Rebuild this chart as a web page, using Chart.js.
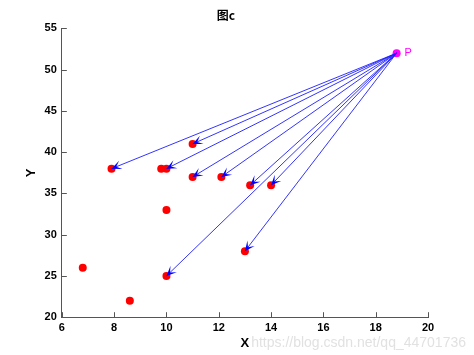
<!DOCTYPE html>
<html>
<head>
<meta charset="utf-8">
<script src="https://cdn.jsdelivr.net/npm/chart.js@4/dist/chart.umd.min.js"></script>
<style>
html,body{margin:0;padding:0;background:#fff;}
#wrap{width:474px;height:355px;position:relative;}
</style>
</head>
<body>
<div id="wrap"><canvas id="c" width="474" height="355"></canvas></div>
<script>
// ---- data ----
const pointX = [11, 7.9, 9.8, 10, 11, 12.1, 13.2, 14, 10, 13, 6.8, 10, 8.6];
const pointY = [41, 38, 38, 38, 37, 37, 36, 36, 33, 28, 26, 25, 22];
const pX = 18.8;
const pY = 52;
const targetX = [11, 7.9, 10, 11, 12.1, 13.2, 14, 13, 10];
const targetY = [41, 38, 38, 37, 37, 36, 36, 28, 25];
const xTicks = [6, 8, 10, 12, 14, 16, 18, 20];
const yTicks = [20, 25, 30, 35, 40, 45, 50, 55];
const titleText = '图c';
const pLabel = 'P';
const watermark = 'https://blog.csdn.net/qq_44701736';

const datasets = [];
targetX.forEach((tx, i) => {
  datasets.push({
    type: 'line', isArrow: true,
    data: [{x: pX, y: pY}, {x: tx, y: targetY[i]}],
    borderColor: 'rgba(30,30,255,0.9)', borderWidth: 1,
    pointRadius: 0, showLine: true, fill: false, order: 0
  });
});
datasets.push({
  type: 'scatter',
  data: pointX.map((x, i) => ({x, y: pointY[i]})),
  backgroundColor: '#ff0000', borderColor: '#ff0000',
  pointRadius: 4, borderWidth: 0, order: 2
});
datasets.push({
  type: 'scatter', isP: true,
  data: [{x: pX, y: pY}],
  backgroundColor: '#ff00ff', borderColor: '#ff00ff',
  pointRadius: 4, borderWidth: 0, order: 1
});

const extras = {
  id: 'extras',
  afterDatasetsDraw(chart) {
    const ctx = chart.ctx;
    ctx.save();
    // arrowheads
    chart.data.datasets.forEach((ds, i) => {
      if (!ds.isArrow) return;
      const pts = chart.getDatasetMeta(i).data;
      const a = pts[0], b = pts[1];
      const ang = Math.atan2(b.y - a.y, b.x - a.x);
      const L = 10, W = 4.5, N = 5;
      ctx.save();
      ctx.translate(b.x, b.y);
      ctx.rotate(ang);
      ctx.fillStyle = '#0000ff';
      ctx.beginPath();
      ctx.moveTo(0, 0);
      ctx.lineTo(-L, -W);
      ctx.lineTo(-N, 0);
      ctx.lineTo(-L, W);
      ctx.closePath();
      ctx.fill();
      ctx.restore();
    });
    // P label
    chart.data.datasets.forEach((ds, i) => {
      if (!ds.isP) return;
      const p = chart.getDatasetMeta(i).data[0];
      ctx.fillStyle = '#ff00ff';
      ctx.font = '11px "Liberation Sans", Arial, sans-serif';
      ctx.textBaseline = 'middle';
      ctx.textAlign = 'left';
      ctx.fillText(pLabel, p.x + 8, p.y);
    });
    // inward ticks
    const xs = chart.scales.x, ys = chart.scales.y;
    ctx.strokeStyle = '#555';
    ctx.lineWidth = 1;
    ctx.beginPath();
    xTicks.forEach(v => {
      const px = Math.round(xs.getPixelForValue(v)) + 0.5;
      ctx.moveTo(px, ys.bottom);
      ctx.lineTo(px, ys.bottom - 5);
    });
    yTicks.forEach(v => {
      const py = Math.round(ys.getPixelForValue(v)) + 0.5;
      ctx.moveTo(xs.left, py);
      ctx.lineTo(xs.left + 5, py);
    });
    ctx.stroke();
    // watermark
    ctx.fillStyle = 'rgba(200,200,200,0.55)';
    ctx.font = '14px "Liberation Sans", Arial, sans-serif';
    ctx.textAlign = 'right';
    ctx.textBaseline = 'alphabetic';
    ctx.fillText(watermark, 466, 347);
    ctx.restore();
  }
};

new Chart(document.getElementById('c'), {
  type: 'scatter',
  data: {datasets},
  plugins: [extras],
  options: {
    responsive: false,
    animation: false,
    layout: {padding: {left: 24, right: 46, top: 2, bottom: 0}},
    plugins: {
      legend: {display: false},
      tooltip: {enabled: false},
      title: {
        display: true, text: titleText, color: '#000',
        font: {family: '"Noto Sans CJK SC", sans-serif', size: 12, weight: 'bold'},
        padding: {top: 6, bottom: 6}
      }
    },
    scales: {
      x: {
        type: 'linear', min: 6, max: 20,
        afterBuildTicks: s => { s.ticks = xTicks.map(v => ({value: v})); },
        grid: {display: true, drawOnChartArea: false, drawTicks: false},
        border: {display: true, color: '#555', width: 1},
        ticks: {color: '#000', padding: 4, maxRotation: 0,
          font: {family: '"Liberation Sans", Arial, sans-serif', size: 11, weight: 'bold'}},
        title: {display: true, text: 'X', color: '#000', padding: {top: -3, bottom: 4},
          font: {family: '"Liberation Sans", Arial, sans-serif', size: 13, weight: 'bold'}}
      },
      y: {
        type: 'linear', min: 20, max: 55,
        afterBuildTicks: s => { s.ticks = yTicks.map(v => ({value: v})); },
        grid: {display: true, drawOnChartArea: false, drawTicks: false},
        border: {display: true, color: '#555', width: 1},
        ticks: {color: '#000', padding: 5,
          font: {family: '"Liberation Sans", Arial, sans-serif', size: 11, weight: 'bold'}},
        title: {display: true, text: 'Y', color: '#000', padding: {top: 0, bottom: 0},
          font: {family: '"Liberation Sans", Arial, sans-serif', size: 13, weight: 'bold'}}
      }
    }
  }
});
</script>
</body>
</html>
